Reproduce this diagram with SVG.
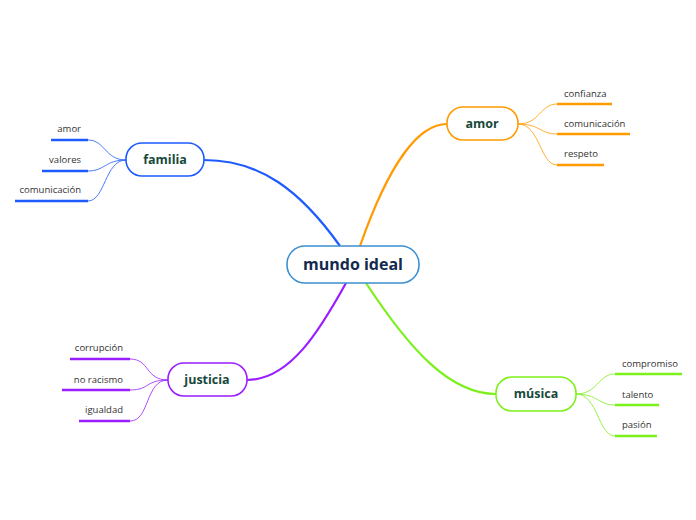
<svg xmlns="http://www.w3.org/2000/svg" width="696" height="520" viewBox="0 0 696 520">
<style>
text{font-family:"Open Sans","Noto Sans",sans-serif}
.n{font-size:12.5px;font-weight:bold;fill:#17493a;text-anchor:middle}
.l{font-size:9.5px;fill:#333}
.b{fill:#fff;stroke-width:1.6}
.c{fill:none}
</style>
<rect width="696" height="520" fill="#fff"/>
<g id="connectors">
<path class="c" stroke="#1e5bff" stroke-width="2.2" d="M340 246 C300 190 260 160 204 160"/>
<path class="c" stroke="#ff9a00" stroke-width="2.2" d="M360 246 C390 160 420 124 447 124"/>
<path class="c" stroke="#9a1eff" stroke-width="2.2" d="M346 283 C320 330 290 380 247 380"/>
<path class="c" stroke="#7cf01a" stroke-width="2.2" d="M366 283 C410 350 450 394 496 394"/>
<g stroke="#1e5bff" stroke-width="0.8" class="c"><path d="M126 160 C105 160 105 140 88 140"/><path d="M126 160 C105 160 105 171 88 171"/><path d="M126 160 C105 160 105 201 88 201"/></g>
<g stroke="#1e5bff" stroke-width="2.5"><path d="M51 140H88M42 171H88M15 201H88"/></g>
<g stroke="#ff9a00" stroke-width="0.8" class="c"><path d="M518 124 C540 124 540 104 557 104"/><path d="M518 124 C540 124 540 134 557 134"/><path d="M518 124 C540 124 540 165 557 165"/></g>
<g stroke="#ff9a00" stroke-width="2.5"><path d="M557 104H612M557 134H630M557 165H604"/></g>
<g stroke="#9a1eff" stroke-width="0.8" class="c"><path d="M168 380 C145 380 150 359 130 359"/><path d="M168 380 C145 380 150 390 130 390"/><path d="M168 380 C145 380 150 421 130 421"/></g>
<g stroke="#9a1eff" stroke-width="2.5"><path d="M70 359H130M62 390H130M79 421H130"/></g>
<g stroke="#7cf01a" stroke-width="0.8" class="c"><path d="M576 394 C598 394 598 374 615 374"/><path d="M576 394 C598 394 598 405 615 405"/><path d="M576 394 C598 394 598 436 615 436"/></g>
<g stroke="#7cf01a" stroke-width="2.5"><path d="M615 374H682M615 405H659M615 436H657"/></g>
</g>
<g id="center"><rect class="b" x="287" y="246" width="132" height="37" rx="18" stroke="#3b8fd0"/><text x="353" y="270" font-size="16" font-weight="bold" fill="#132a4f" text-anchor="middle">mundo ideal</text></g>
<g id="familia"><rect class="b" x="126" y="143" width="78" height="33" rx="16" stroke="#1e5bff"/><text class="n" x="165" y="164">familia</text>
<text class="l" x="81" y="132" text-anchor="end">amor</text><text class="l" x="81" y="163" text-anchor="end">valores</text><text class="l" x="81" y="193" text-anchor="end">comunicación</text></g>
<g id="amor"><rect class="b" x="447" y="107" width="71" height="33" rx="16" stroke="#ff9a00"/><text class="n" x="482" y="128">amor</text>
<text class="l" x="564" y="97">confianza</text><text class="l" x="564" y="127">comunicación</text><text class="l" x="564" y="157">respeto</text></g>
<g id="justicia"><rect class="b" x="168" y="363" width="79" height="33" rx="16" stroke="#9a1eff"/><text class="n" x="207" y="384">justicia</text>
<text class="l" x="123" y="351" text-anchor="end">corrupción</text><text class="l" x="123" y="383" text-anchor="end">no racismo</text><text class="l" x="123" y="413" text-anchor="end">igualdad</text></g>
<g id="musica"><rect class="b" x="496" y="377" width="80" height="34" rx="16" stroke="#7cf01a"/><text class="n" x="536" y="398">música</text>
<text class="l" x="622" y="367">compromiso</text><text class="l" x="622" y="398">talento</text><text class="l" x="622" y="428">pasión</text></g>
</svg>
